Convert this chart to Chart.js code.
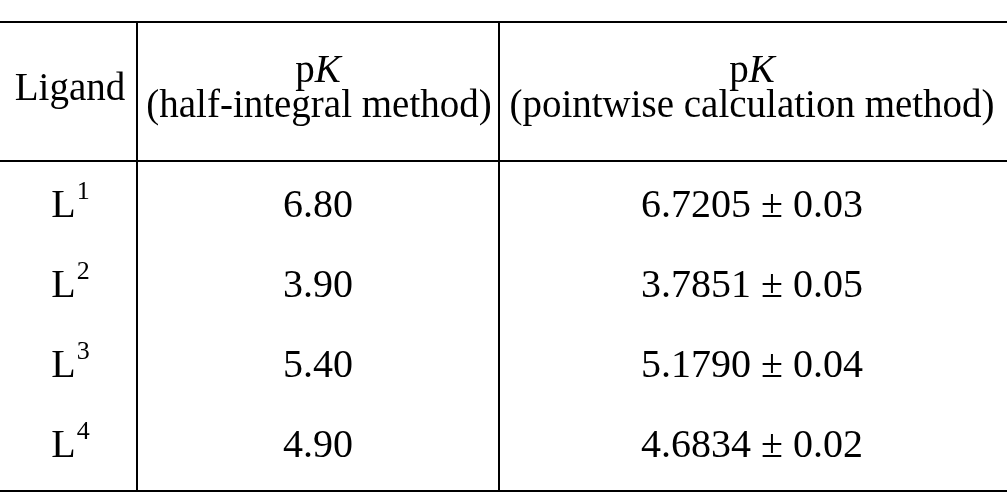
<!DOCTYPE html>
<html><head><meta charset="utf-8">
<script src="https://cdn.jsdelivr.net/npm/chart.js@4"></script>
<style>html,body{margin:0;padding:0;background:#fff}#w{width:1007px;height:502px}</style>
</head><body><div id="w"><canvas id="c"></canvas></div>
<script>
const ligands = ["1","2","3","4"];
const halfIntegral = ["6.80","3.90","5.40","4.90"];
const pointwise = ["6.7205","3.7851","5.1790","4.6834"];
const pointwiseErr = ["0.03","0.05","0.04","0.02"];
const headers = ["Ligand","(half-integral method)","(pointwise calculation method)"];

const F = '"Liberation Serif", "Times New Roman", serif';
const tablePlugin = {
  id:'table',
  afterDraw(chart){
    const ctx = chart.ctx, xs = chart.scales.x, ys = chart.scales.y;
    const X = v=>xs.getPixelForValue(v), Y = v=>ys.getPixelForValue(v);
    ctx.save();
    ctx.strokeStyle='#000'; ctx.lineWidth=2;
    const hl=(y)=>{ctx.beginPath();ctx.moveTo(X(0),Y(y));ctx.lineTo(X(1007),Y(y));ctx.stroke();};
    hl(22); hl(161); hl(491);
    [137,499].forEach(x=>{ctx.beginPath();ctx.moveTo(X(x),Y(22));ctx.lineTo(X(x),Y(491));ctx.stroke();});
    ctx.fillStyle='#000'; ctx.textBaseline='middle'; ctx.textAlign='center';
    ctx.font='39px '+F;
    ctx.fillText(headers[0], X(70), Y(90));
    const pk=(cx,y)=>{
      ctx.font='39px '+F; const w1=ctx.measureText('p').width;
      ctx.font='italic 39px '+F; const w2=ctx.measureText('K').width;
      const s=X(cx)-(w1+w2)/2; ctx.textAlign='left';
      ctx.font='39px '+F; ctx.fillText('p',s,Y(y));
      ctx.font='italic 39px '+F; ctx.fillText('K',s+w1,Y(y));
      ctx.textAlign='center';
    };
    pk(318,72); pk(752,72);
    ctx.font='39px '+F;
    ctx.fillText(headers[1], X(319), Y(107));
    ctx.fillText(headers[2], X(752), Y(107));
    const rowsY=[206,286,366,446];
    ligands.forEach((l,i)=>{
      const y=rowsY[i];
      ctx.font='40px '+F; const wl=ctx.measureText('L').width;
      ctx.font='26px '+F; const ws=ctx.measureText(l).width;
      const s=X(70)-(wl+ws)/2; ctx.textAlign='left';
      ctx.font='40px '+F; ctx.fillText('L',s,Y(y));
      ctx.font='26px '+F; ctx.fillText(l,s+wl+1,Y(y-14));
      ctx.textAlign='center';
      ctx.font='40px '+F;
      ctx.fillText(halfIntegral[i], X(318), Y(y));
      ctx.fillText(pointwise[i]+' \u00b1 '+pointwiseErr[i], X(752), Y(y));
    });
    ctx.restore();
  }
};
new Chart(document.getElementById('c'),{
  type:'scatter',
  data:{datasets:[{data:[]}]},
  options:{responsive:true,maintainAspectRatio:false,animation:false,
    layout:{padding:0},
    plugins:{legend:{display:false},tooltip:{enabled:false}},
    scales:{x:{type:'linear',min:0,max:1007,display:false},
            y:{type:'linear',min:0,max:502,reverse:true,display:false}}},
  plugins:[tablePlugin]
});
</script></body></html>
